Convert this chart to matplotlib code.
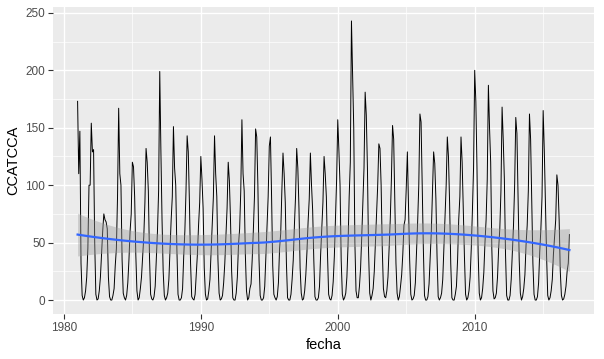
import numpy as np
import matplotlib.pyplot as plt

# ---------------------------------------
# Monthly precipitation, CCATCCA station (Jan..Dec per year)
# ---------------------------------------

years = list(range(1981, 2017))

monthly = [
    [173, 110, 147, 32, 4, 0, 2, 8, 20, 45, 100, 100],   # 1981
    [154, 129, 131, 50, 5, 0, 1, 8, 20, 40, 60, 75],     # 1982
    [70, 68, 62, 20, 3, 0, 0, 4, 10, 30, 45, 90],        # 1983
    [167, 110, 100, 35, 6, 2, 0, 4, 15, 35, 60, 75],     # 1984
    [120, 116, 90, 40, 8, 0, 2, 10, 20, 38, 55, 85],     # 1985
    [132, 120, 95, 38, 5, 1, 0, 3, 12, 35, 60, 95],      # 1986
    [199, 130, 70, 25, 4, 0, 2, 6, 18, 45, 70, 90],      # 1987
    [151, 115, 100, 45, 5, 0, 0, 2, 10, 38, 60, 95],     # 1988
    [143, 129, 85, 32, 3, 1, 0, 5, 22, 40, 65, 85],      # 1989
    [125, 105, 80, 28, 5, 0, 1, 8, 18, 42, 65, 90],      # 1990
    [143, 110, 90, 35, 6, 0, 1, 4, 15, 32, 55, 80],      # 1991
    [120, 104, 70, 25, 2, 0, 0, 6, 20, 48, 62, 95],      # 1992
    [157, 110, 95, 40, 8, 0, 2, 10, 14, 35, 60, 90],     # 1993
    [149, 142, 100, 35, 4, 0, 0, 2, 12, 38, 65, 90],     # 1994
    [134, 142, 90, 30, 5, 2, 0, 3, 15, 45, 58, 95],      # 1995
    [128, 110, 85, 32, 2, 0, 0, 5, 18, 35, 65, 90],      # 1996
    [132, 115, 80, 28, 6, 0, 1, 8, 22, 42, 68, 88],      # 1997
    [128, 100, 78, 35, 3, 0, 0, 2, 12, 40, 62, 85],      # 1998
    [125, 110, 90, 40, 5, 1, 0, 4, 16, 38, 70, 105],     # 1999
    [157, 130, 100, 35, 5, 0, 2, 6, 20, 48, 90, 120],    # 2000
    [243, 197, 150, 50, 8, 2, 2, 12, 28, 55, 85, 115],   # 2001
    [181, 161, 115, 42, 6, 0, 4, 10, 25, 50, 75, 100],   # 2002
    [136, 132, 100, 45, 10, 3, 2, 8, 20, 45, 70, 105],   # 2003
    [152, 140, 85, 32, 6, 0, 3, 12, 22, 40, 65, 70],     # 2004
    [97, 129, 80, 35, 5, 0, 1, 4, 15, 42, 68, 100],      # 2005
    [162, 155, 100, 45, 4, 0, 0, 3, 14, 38, 60, 95],     # 2006
    [129, 119, 88, 38, 3, 0, 2, 6, 18, 45, 70, 100],     # 2007
    [142, 125, 85, 32, 2, 0, 0, 5, 12, 35, 70, 90],      # 2008
    [142, 120, 80, 38, 5, 0, 2, 8, 20, 45, 78, 115],     # 2009
    [200, 173, 115, 42, 6, 0, 2, 10, 24, 50, 70, 105],   # 2010
    [187, 150, 120, 45, 8, 1, 2, 6, 20, 45, 62, 95],     # 2011
    [168, 140, 105, 40, 4, 0, 0, 4, 18, 42, 65, 100],    # 2012
    [159, 145, 90, 35, 6, 0, 3, 10, 22, 48, 65, 95],     # 2013
    [162, 140, 88, 32, 5, 0, 0, 3, 15, 42, 62, 90],      # 2014
    [165, 130, 85, 38, 4, 0, 2, 8, 18, 40, 55, 70],      # 2015
    [109, 100, 70, 25, 4, 0, 1, 5, 12, 25, 32, 57],      # 2016
]

x_ticks = [1980, 1990, 2000, 2010]
y_ticks = [0, 50, 100, 150, 200, 250]

# ---------------------------------------
# Series
# ---------------------------------------

fecha = np.array([y + m / 12 for y in years for m in range(12)])
pp = np.array(monthly, dtype=float).ravel()


# ---------------------------------------
# loess (span 0.75, degree 2) like geom_smooth
# ---------------------------------------

def loess_rows(x, x0, span=0.75):
    n = len(x)
    q = int(np.floor(n * span))
    rows = []
    for p in x0:
        d = np.abs(x - p)
        h = np.sort(d)[q - 1]
        u = np.clip(d / h, 0, 1)
        w = (1 - u ** 3) ** 3
        X = np.column_stack([np.ones(n), x - p, (x - p) ** 2])
        XtW = X.T * w
        A = np.linalg.solve(XtW @ X, XtW)
        rows.append(A[0])
    return np.array(rows)


L = loess_rows(fecha, fecha)
fit_obs = L @ pp
IL = np.eye(len(pp)) - L
M = IL.T @ IL
one_delta = np.trace(M)
s = np.sqrt(np.sum((pp - fit_obs) ** 2) / one_delta)

grid = np.linspace(fecha.min(), fecha.max(), 80)
Lg = loess_rows(fecha, grid)
fit = Lg @ pp
se = s * np.sqrt(np.sum(Lg ** 2, axis=1))
lo = fit - 1.966 * se
hi = fit + 1.966 * se

# ---------------------------------------
# Plot
# ---------------------------------------

plt.rcParams["font.family"] = ["Liberation Sans", "DejaVu Sans"]

fig = plt.figure(figsize=(6.04, 3.59), dpi=100)
ax = fig.add_axes([53 / 604, 45 / 359, 541 / 604, 307 / 359])
ax.set_facecolor("#EBEBEB")

ax.plot(fecha, pp, color="black", linewidth=0.7, zorder=3)
ax.fill_between(grid, lo, hi, color="#999999", alpha=0.4, linewidth=0, zorder=4)
ax.plot(grid, fit, color="#3366FF", linewidth=1.6, zorder=5)

xr = fecha.max() - fecha.min()
ax.set_xlim(fecha.min() - 0.05 * xr, fecha.max() + 0.05 * xr)
yr = pp.max() - pp.min()
ax.set_ylim(pp.min() - 0.05 * yr, pp.max() + 0.05 * yr)

ax.set_xticks(x_ticks)
ax.set_xticklabels([str(t) for t in x_ticks])
ax.set_xticks([1985, 1995, 2005, 2015], minor=True)
ax.set_yticks(y_ticks)
ax.set_yticks([25, 75, 125, 175, 225], minor=True)

ax.grid(which="major", color="white", linewidth=1.0, zorder=0)
ax.grid(which="minor", color="white", linewidth=0.5, zorder=0)
ax.set_axisbelow(True)

for sp in ax.spines.values():
    sp.set_visible(False)

ax.tick_params(which="major", length=3.5, width=0.8, color="#333333",
               labelsize=8.5, labelcolor="#4D4D4D", pad=2)
ax.tick_params(which="minor", length=0)

ax.set_xlabel("fecha", fontsize=10.5, color="black", labelpad=3)
ax.set_ylabel("CCATCCA", fontsize=10.5, color="black", labelpad=4)

plt.savefig("out.png", dpi=100)
